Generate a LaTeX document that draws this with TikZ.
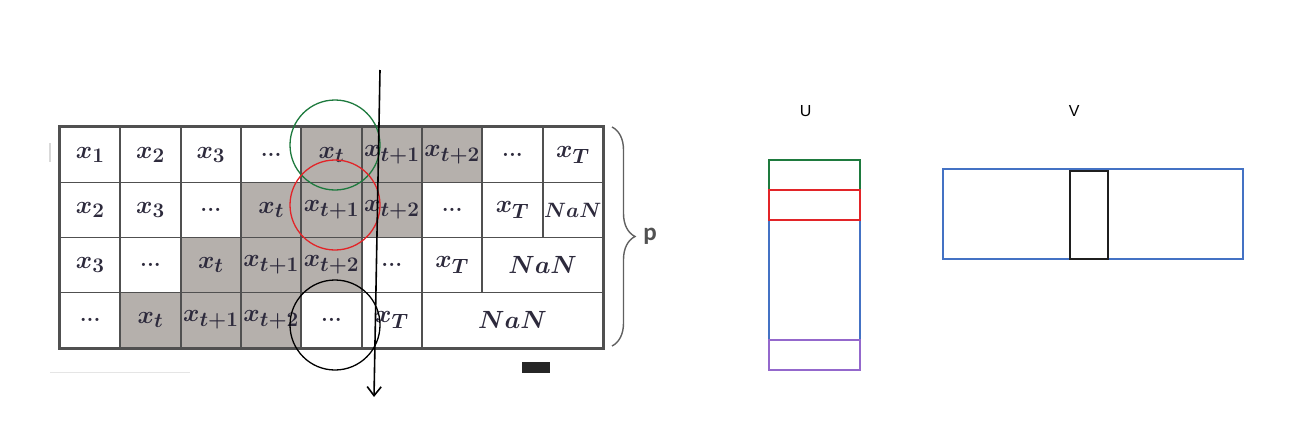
\documentclass[tikz,border=0pt]{standalone}
\usepackage[no-math]{fontspec}
\usetikzlibrary{arrows.meta,decorations.pathreplacing}
\newfontfamily\labfont{Liberation Sans}
\newfontfamily\pfont{Carlito}
\definecolor{gridc}{RGB}{80,80,80}
\definecolor{shadec}{RGB}{181,176,172}
\definecolor{txtc}{RGB}{45,42,60}
\definecolor{cgreen}{RGB}{30,122,62}
\definecolor{cred}{RGB}{226,36,40}
\definecolor{cblue}{RGB}{68,114,196}
\definecolor{cpurple}{RGB}{148,104,204}
\newcommand\mkcell[6]{\node[cellbox,#5,minimum width={60.33pt*#4}] (#1) at ({60+60.33*(#2-1)+60.33*#4/2},{127.5+55*(#3-0.5)}) {\makebox[0pt]{#6}};}
\begin{document}
\begin{tikzpicture}[x=1pt,y=-1pt,
  cellbox/.style={draw=gridc, line width=1.8pt, minimum height=55pt, inner sep=0pt, font=\fontsize{29}{29}\selectfont\boldmath, text=txtc},
  wcell/.style={fill=white},
  gcell/.style={fill=shadec},
  nanf/.style={font=\fontsize{22}{22}\selectfont\boldmath},
  nanb/.style={font=\fontsize{25}{25}\selectfont\boldmath},
  dotf/.style={font=\fontsize{22}{22}\selectfont\bfseries},
  ring/.style={circle, draw=#1, line width=1.3pt, minimum size=90pt, inner sep=0pt},
  ubox/.style={draw=#1, line width=1.6pt, minimum width=90.5pt, inner sep=0pt},
  lab/.style={font=\labfont\fontsize{16}{16}\selectfont, text=black}]
\useasboundingbox (0,0) rectangle (1289,444);
% faint artefacts of the pasted table picture
\draw[black!15, line width=2pt] (50,143) -- (50,162);
\draw[black!10, line width=1pt] (50,372) -- (190,372);
% row 1
\mkcell{a1}{1}{1}{1}{wcell}{$x_1$}
\mkcell{a2}{2}{1}{1}{wcell}{$x_2$}
\mkcell{a3}{3}{1}{1}{wcell}{$x_3$}
\mkcell{a4}{4}{1}{1}{wcell,dotf}{...}
\mkcell{a5}{5}{1}{1}{gcell}{$x_t$}
\mkcell{a6}{6}{1}{1}{gcell}{$x_{t+1}$}
\mkcell{a7}{7}{1}{1}{gcell}{$x_{t+2}$}
\mkcell{a8}{8}{1}{1}{wcell,dotf}{...}
\mkcell{a9}{9}{1}{1}{wcell}{$x_T$}
% row 2
\mkcell{b1}{1}{2}{1}{wcell}{$x_2$}
\mkcell{b2}{2}{2}{1}{wcell}{$x_3$}
\mkcell{b3}{3}{2}{1}{wcell,dotf}{...}
\mkcell{b4}{4}{2}{1}{gcell}{$x_t$}
\mkcell{b5}{5}{2}{1}{gcell}{$x_{t+1}$}
\mkcell{b6}{6}{2}{1}{gcell}{$x_{t+2}$}
\mkcell{b7}{7}{2}{1}{wcell,dotf}{...}
\mkcell{b8}{8}{2}{1}{wcell}{$x_T$}
\mkcell{b9}{9}{2}{1}{wcell,nanf}{$NaN$}
% row 3
\mkcell{c1}{1}{3}{1}{wcell}{$x_3$}
\mkcell{c2}{2}{3}{1}{wcell,dotf}{...}
\mkcell{c3}{3}{3}{1}{gcell}{$x_t$}
\mkcell{c4}{4}{3}{1}{gcell}{$x_{t+1}$}
\mkcell{c5}{5}{3}{1}{gcell}{$x_{t+2}$}
\mkcell{c6}{6}{3}{1}{wcell,dotf}{...}
\mkcell{c7}{7}{3}{1}{wcell}{$x_T$}
\mkcell{c8}{8}{3}{2}{wcell,nanb}{$NaN$}
% row 4
\mkcell{d1}{1}{4}{1}{wcell,dotf}{...}
\mkcell{d2}{2}{4}{1}{gcell}{$x_t$}
\mkcell{d3}{3}{4}{1}{gcell}{$x_{t+1}$}
\mkcell{d4}{4}{4}{1}{gcell}{$x_{t+2}$}
\mkcell{d5}{5}{4}{1}{wcell,dotf}{...}
\mkcell{d6}{6}{4}{1}{wcell}{$x_T$}
\mkcell{d7}{7}{4}{3}{wcell,nanb}{$NaN$}
% outer frame
\draw[gridc, line width=2.6pt] (a1.north west) rectangle (d7.south east);
% brace and p
\coordinate (bt) at (612,127);
\coordinate (bb) at (612,346);
\draw[gray!75!black, line width=1.4pt, decorate, decoration={brace, amplitude=23pt}] (bt) -- (bb);
\node[font=\pfont\bfseries\fontsize{25}{25}\selectfont, text=black!68] (p) at (650,236) {p};
% small black block
\node[fill=black!85, minimum width=28pt, minimum height=11pt, inner sep=0pt] (blk) at (536,367) {};
% circles
\node[ring=cgreen] (gc) at (335,145) {};
\node[ring=cred] (rc) at (335,205) {};
\node[ring=black] (kc) at (335,325) {};
% arrow
\coordinate (atop) at (380,70);
\coordinate (abot) at (374,397);
\draw[-{Straight Barb[length=9pt,width=14pt]}, line width=1.6pt] (atop) -- (abot);
% U
\node[lab] (ul) at (805.7,111) {U};
\node[ubox=cblue, minimum height=210pt] (ubig) at (814.5,265) {};
\node[ubox=cgreen, minimum height=30pt] (ug) at (814.5,175) {};
\node[ubox=cred, minimum height=30pt] (ur) at (814.5,205) {};
\node[ubox=cpurple, minimum height=30pt] (up) at (814.5,355) {};
% V
\node[lab] (vl) at (1074.3,111) {V};
\node[draw=cblue, line width=1.6pt, minimum width=300pt, minimum height=89.7pt, inner sep=0pt] (vbig) at (1092.7,213.85) {};
\node[draw=black!88, line width=1.8pt, minimum width=38pt, minimum height=87.7pt, inner sep=0pt] (vin) at (1089,214.85) {};
\end{tikzpicture}
\end{document}
